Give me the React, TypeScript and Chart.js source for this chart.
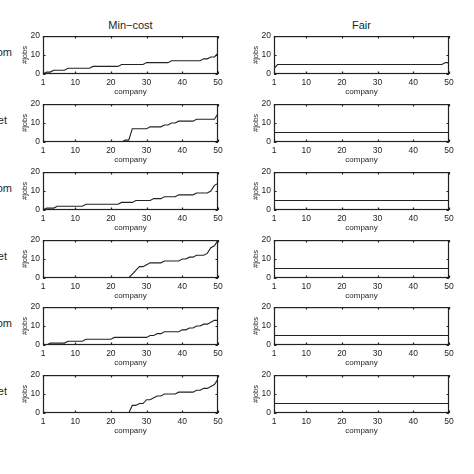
import React, { useEffect, useRef } from "react";
import { Chart, registerables } from "chart.js";

Chart.register(...registerables);

const companies = [
  1, 2, 3, 4, 5, 6, 7, 8, 9, 10, 11, 12, 13, 14, 15, 16, 17, 18, 19, 20,
  21, 22, 23, 24, 25, 26, 27, 28, 29, 30, 31, 32, 33, 34, 35, 36, 37, 38, 39, 40,
  41, 42, 43, 44, 45, 46, 47, 48, 49, 50,
];
const xTickValues = [1, 10, 20, 30, 40, 50];
const yTickValues = [0, 10, 20];
const columnTitles = ["Min\u2212cost", "Fair"];
const rowLabels = ["om", "et", "om", "et", "om", "et"];

const minCostRandomA = [
  0, 1, 1, 2, 2, 2, 2, 3, 3, 3, 3, 3, 3, 3, 4, 4, 4, 4, 4, 4,
  4, 4, 5, 5, 5, 5, 5, 5, 5, 6, 6, 6, 6, 6, 6, 6, 7, 7, 7, 7,
  7, 7, 7, 7, 7, 8, 8, 9, 9, 11,
];
const minCostBudgetA = [
  0, 0, 0, 0, 0, 0, 0, 0, 0, 0, 0, 0, 0, 0, 0, 0, 0, 0, 0, 0,
  0, 0, 0, 1, 1, 7, 7, 7, 7, 7, 8, 8, 8, 8, 9, 9, 10, 10, 11, 11,
  11, 11, 11, 12, 12, 12, 12, 12, 12, 15,
];
const minCostRandomB = [
  0, 1, 1, 1, 2, 2, 2, 2, 2, 2, 2, 2, 3, 3, 3, 3, 3, 3, 3, 3,
  3, 3, 4, 4, 4, 4, 5, 5, 5, 5, 5, 6, 6, 6, 7, 7, 7, 7, 8, 8,
  8, 8, 8, 9, 9, 9, 9, 10, 13, 14,
];
const minCostBudgetB = [
  0, 0, 0, 0, 0, 0, 0, 0, 0, 0, 0, 0, 0, 0, 0, 0, 0, 0, 0, 0,
  0, 0, 0, 0, 0, 2, 4, 6, 6, 7, 8, 8, 8, 8, 9, 9, 9, 9, 9, 10,
  10, 11, 11, 12, 12, 12, 13, 16, 17, 20,
];
const minCostRandomC = [
  0, 0, 1, 1, 1, 1, 1, 2, 2, 2, 2, 2, 3, 3, 3, 3, 3, 3, 3, 3,
  4, 4, 4, 4, 4, 4, 4, 4, 4, 4, 5, 5, 6, 6, 7, 7, 7, 7, 7, 8,
  8, 9, 9, 10, 10, 11, 11, 12, 13, 13,
];
const minCostBudgetC = [
  0, 0, 0, 0, 0, 0, 0, 0, 0, 0, 0, 0, 0, 0, 0, 0, 0, 0, 0, 0,
  0, 0, 0, 0, 0, 4, 4, 5, 5, 7, 7, 8, 9, 9, 10, 10, 10, 10, 11, 11,
  11, 11, 11, 12, 12, 13, 13, 14, 15, 18,
];
const fairRandomA = [
  3, 5, 5, 5, 5, 5, 5, 5, 5, 5, 5, 5, 5, 5, 5, 5, 5, 5, 5, 5,
  5, 5, 5, 5, 5, 5, 5, 5, 5, 5, 5, 5, 5, 5, 5, 5, 5, 5, 5, 5,
  5, 5, 5, 5, 5, 5, 5, 5, 6, 6,
];
const fairFlat = [
  5, 5, 5, 5, 5, 5, 5, 5, 5, 5, 5, 5, 5, 5, 5, 5, 5, 5, 5, 5,
  5, 5, 5, 5, 5, 5, 5, 5, 5, 5, 5, 5, 5, 5, 5, 5, 5, 5, 5, 5,
  5, 5, 5, 5, 5, 5, 5, 5, 5, 5,
];

const leftSeries = [minCostRandomA, minCostBudgetA, minCostRandomB, minCostBudgetB, minCostRandomC, minCostBudgetC];
const rightSeries = [fairRandomA, fairFlat, fairFlat, fairFlat, fairFlat, fairFlat];

// layout
const FONT = "'Liberation Sans', Arial, Helvetica, sans-serif";
const TEXT = "#1e1e1e";
const colLefts = [43, 274];
const rowTops = [34, 102, 170, 238, 305, 373];
const AREA_W = 175;
const AREA_H = 40;
const PAD_L = 36;
const PAD_R = 10;
const PAD_T = 6;
const PAD_B = 26;
const CW = PAD_L + AREA_W + PAD_R;
const CH = PAD_T + AREA_H + PAD_B;

const framePlugin = {
  id: "frame",
  afterDatasetsDraw(chart: any) {
    const { ctx, chartArea, scales } = chart;
    const { left, right, top, bottom } = chartArea;
    ctx.save();
    ctx.strokeStyle = "#222";
    ctx.lineWidth = 1.2;
    ctx.strokeRect(left + 0.5, top + 0.5, right - left - 1, bottom - top - 1);
    ctx.beginPath();
    const tl = 2.5;
    for (const v of xTickValues) {
      const px = Math.round(scales.x.getPixelForValue(v)) + 0.5;
      ctx.moveTo(px, bottom);
      ctx.lineTo(px, bottom - tl);
      ctx.moveTo(px, top);
      ctx.lineTo(px, top + tl);
    }
    for (const v of yTickValues) {
      const py = Math.round(scales.y.getPixelForValue(v)) + 0.5;
      ctx.moveTo(left, py);
      ctx.lineTo(left + tl, py);
      ctx.moveTo(right, py);
      ctx.lineTo(right - tl, py);
    }
    ctx.stroke();
    ctx.restore();
  },
};

function Plot({ values, left, top }: { values: number[]; left: number; top: number }) {
  const ref = useRef<HTMLCanvasElement>(null);
  useEffect(() => {
    if (!ref.current) return;
    const chart = new Chart(ref.current, {
      type: "line",
      data: {
        datasets: [
          {
            data: companies.map((c, i) => ({ x: c, y: values[i] })),
            borderColor: "#222",
            borderWidth: 1.1,
            pointRadius: 0,
            tension: 0,
            fill: false,
          },
        ],
      },
      options: {
        responsive: false,
        animation: false,
        maintainAspectRatio: false,
        layout: { padding: { left: 0, right: PAD_R, top: PAD_T, bottom: 0 } },
        plugins: { legend: { display: false }, tooltip: { enabled: false } },
        scales: {
          x: {
            type: "linear",
            min: 1,
            max: 50,
            afterBuildTicks: (s: any) => {
              s.ticks = xTickValues.map((v) => ({ value: v }));
            },
            afterFit: (s: any) => {
              s.height = PAD_B;
            },
            grid: { display: false, drawTicks: false },
            border: { display: false },
            ticks: {
              padding: 3.5,
              autoSkip: false,
              maxRotation: 0,
              color: TEXT,
              font: { family: FONT, size: 8.5 },
            },
            title: {
              display: true,
              text: "company",
              color: TEXT,
              padding: { top: 0, bottom: 3 },
              font: { family: FONT, size: 8 },
            },
          },
          y: {
            type: "linear",
            min: 0,
            max: 20,
            afterBuildTicks: (s: any) => {
              s.ticks = yTickValues.map((v) => ({ value: v }));
            },
            afterFit: (s: any) => {
              s.width = PAD_L;
            },
            grid: { display: false, drawTicks: false },
            border: { display: false },
            ticks: {
              padding: 3,
              color: TEXT,
              font: { family: FONT, size: 8.5 },
            },
            title: {
              display: true,
              text: "#jobs",
              color: TEXT,
              padding: { top: 13, bottom: 0 },
              font: { family: FONT, size: 7.5 },
            },
          },
        },
      } as any,
      plugins: [framePlugin],
    });
    return () => chart.destroy();
  }, [values]);
  return (
    <canvas
      ref={ref}
      width={CW}
      height={CH}
      style={{ position: "absolute", left: left - PAD_L, top: top - PAD_T, width: CW, height: CH }}
    />
  );
}

export default function App() {
  return (
    <div style={{ position: "absolute", left: 0, top: 0, width: 474, height: 474, overflow: "hidden", background: "#fff" }}>
      {columnTitles.map((t, c) => (
        <div
          key={t}
          style={{
            position: "absolute",
            left: colLefts[c],
            width: AREA_W,
            top: 19,
            textAlign: "center",
            fontFamily: FONT,
            fontSize: 11,
            lineHeight: "13px",
            color: TEXT,
          }}
        >
          {t}
        </div>
      ))}
      {rowLabels.map((t, r) => (
        <div
          key={r}
          style={{
            position: "absolute",
            right: 474 - (t === "om" ? 12 : 7),
            top: rowTops[r] + AREA_H / 2 - 8,
            fontFamily: FONT,
            fontSize: 11,
            lineHeight: "13px",
            color: TEXT,
            whiteSpace: "nowrap",
          }}
        >
          {t}
        </div>
      ))}
      {leftSeries.map((v, r) => (
        <Plot key={"l" + r} values={v} left={colLefts[0]} top={rowTops[r]} />
      ))}
      {rightSeries.map((v, r) => (
        <Plot key={"r" + r} values={v} left={colLefts[1]} top={rowTops[r]} />
      ))}
    </div>
  );
}
